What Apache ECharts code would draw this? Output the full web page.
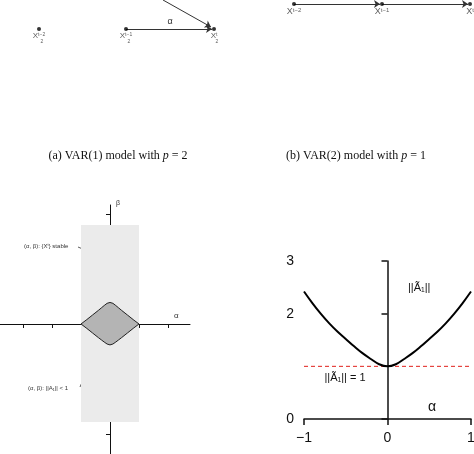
<!DOCTYPE html>
<html><head><meta charset="utf-8">
<script src="https://cdn.jsdelivr.net/npm/echarts@6/dist/echarts.min.js"></script>
<style>html,body{margin:0;padding:0;background:#fff}#c{width:474px;height:454px}</style>
</head><body><div id="c"></div>
<script>
// Diagram node positions (diagram coordinates, pixel-like units)
var nodesA = [[39,29,'X','2','t−2'],[126,29,'X','2','t−1'],[214,29,'X','2','t']];
var nodesB = [[294,4,'X','','t−2'],[382,4,'X','','t−1'],[470,4,'X','','t']];
var arrows = [[[126,29],[212,29]],[[163,0],[211,27]],[[294,4],[380,4]],[[382,4],[468,4]]];
// Stability region (panel c)
var stableAlpha = [-1, 1];
var stableBeta = [-4.45, 4.5];
var normAlpha = [-1,-0.8,-0.6,-0.4,-0.3,-0.2,-0.1,0,0.1,0.2,0.3,0.4,0.6,0.8,1];
var normBetaUpper = [0,0.2,0.41,0.62,0.73,0.84,0.94,0.98,0.94,0.84,0.73,0.62,0.41,0.2,0];
var normBetaLower = [0,-0.2,-0.41,-0.62,-0.72,-0.82,-0.91,-0.95,-0.91,-0.82,-0.72,-0.62,-0.41,-0.2,0];
// Panel d curve
var dAlpha = [-1,-0.9,-0.8,-0.7,-0.6,-0.5,-0.4,-0.3,-0.2,-0.1,0,0.1,0.2,0.3,0.4,0.5,0.6,0.7,0.8,0.9,1];
var dNorm = [2.42,2.2,2.0,1.82,1.66,1.52,1.38,1.25,1.14,1.04,1.0,1.04,1.14,1.25,1.38,1.52,1.66,1.82,2.0,2.2,2.42];
var cTicksX = [-3,-2,-1,1,2], cTicksY = [-5,5];
var dTicksX = [-1,0,1], dTicksY = [0,2,3];

var chart = echarts.init(document.getElementById('c'));
var poly = normAlpha.map(function(a,i){return [a,normBetaUpper[i]];})
  .concat(normAlpha.slice().reverse().map(function(a,i){return [a,normBetaLower[normAlpha.length-1-i]];}));
var sans='Liberation Sans';
var nodeData = function(list,fs){
  return list.map(function(n){return {value:[n[0],n[1]],label:{show:true,position:'bottom',distance:1,
    formatter:'{b|X}{s|'+n[4]+'}'+(n[3]?'\n{sub|'+n[3]+'}':''),
    rich:{b:{fontSize:fs,color:'#333',fontFamily:sans,lineHeight:fs},s:{fontSize:fs-3,color:'#333',fontFamily:sans,verticalAlign:'top',lineHeight:fs},
      sub:{fontSize:5,color:'#333',fontFamily:sans,lineHeight:3,padding:[0,0,0,6]}}}};});
};
chart.setOption({
  animation:false,
  grid:[
    {left:0,top:0,width:474,height:454,outerBoundsMode:'none'},
    {left:0,top:205,width:190,height:249,outerBoundsMode:'none'},
    {left:304,top:261,width:167,height:158,outerBoundsMode:'none'}
  ],
  xAxis:[
    {gridIndex:0,type:'value',min:0,max:474,show:false},
    {gridIndex:1,type:'value',min:-3.793,max:2.759,
      axisLine:{onZero:true,lineStyle:{color:'#111',width:1}},
      axisTick:{show:true,customValues:cTicksX,length:4,lineStyle:{color:'#111'}},
      axisLabel:{customValues:cTicksX,fontSize:6,color:'#333',margin:8,fontFamily:sans,
        formatter:function(v){return v<0?'−'+(-v):''+v;}},splitLine:{show:false}},
    {gridIndex:2,type:'value',min:-1,max:1,
      axisLine:{onZero:true,lineStyle:{color:'#111',width:1.5}},
      axisTick:{show:true,customValues:dTicksX,length:6,lineStyle:{color:'#111',width:1.5}},
      axisLabel:{customValues:dTicksX,fontSize:14,color:'#111',margin:12,fontFamily:sans,
        formatter:function(v){return v<0?'−'+(-v):''+v;}},splitLine:{show:false}}
  ],
  yAxis:[
    {gridIndex:0,type:'value',min:0,max:454,inverse:true,show:false},
    {gridIndex:1,type:'value',min:-5.909,max:5.409,
      axisLine:{onZero:true,lineStyle:{color:'#111',width:1}},
      axisTick:{show:true,customValues:cTicksY,length:4,lineStyle:{color:'#111'}},
      axisLabel:{customValues:cTicksY,fontSize:6,color:'#333',margin:6,fontFamily:sans,
        formatter:function(v){return v<0?'−'+(-v):''+v;}},splitLine:{show:false}},
    {gridIndex:2,type:'value',min:0,max:3,
      axisLine:{onZero:true,lineStyle:{color:'#111',width:1.5}},
      axisTick:{show:true,customValues:dTicksY,length:6,lineStyle:{color:'#111',width:1.5}},
      axisLabel:{customValues:dTicksY,fontSize:14,color:'#111',margin:10,fontFamily:sans},splitLine:{show:false}}
  ],
  series:[
    {type:'lines',coordinateSystem:'cartesian2d',xAxisIndex:0,yAxisIndex:0,symbol:['none','arrow'],symbolSize:6,
      lineStyle:{color:'#333',width:1,opacity:1},data:arrows.map(function(a){return {coords:a};})},
    {type:'scatter',xAxisIndex:0,yAxisIndex:0,symbolSize:4,itemStyle:{color:'#000'},data:nodeData(nodesA,8)},
    {type:'scatter',xAxisIndex:0,yAxisIndex:0,symbolSize:4,itemStyle:{color:'#000'},data:nodeData(nodesB,9)},
    {type:'custom',xAxisIndex:1,yAxisIndex:1,data:[[stableAlpha[0],stableBeta[0],stableAlpha[1],stableBeta[1]]],
      renderItem:function(p,api){var a=api.coord([api.value(0),api.value(3)]),b=api.coord([api.value(2),api.value(1)]);
        return {type:'rect',shape:{x:a[0],y:a[1],width:b[0]-a[0],height:b[1]-a[1]},style:{fill:'#ebebeb'}};},z:1},
    {type:'custom',xAxisIndex:1,yAxisIndex:1,data:[0],z:2,
      renderItem:function(p,api){return {type:'polygon',shape:{points:poly.map(function(q){return api.coord(q);})},
        style:{fill:'#b4b4b4',stroke:'#222',lineWidth:1}};}},
    {type:'line',xAxisIndex:2,yAxisIndex:2,data:[[-1,1],[1,1]],symbol:'none',lineStyle:{color:'#e0201b',width:1,type:[4,3]}},
    {type:'line',xAxisIndex:2,yAxisIndex:2,data:dAlpha.map(function(a,i){return [a,dNorm[i]];}),symbol:'none',smooth:0.4,
      lineStyle:{color:'#000',width:2},z:5}
  ],
  graphic:[
    {type:'text',x:170,y:22,style:{text:'α',fontSize:9,fill:'#333',fontFamily:sans,align:'center',verticalAlign:'middle'}},
    {type:'text',x:118,y:156,style:{text:'(a) VAR(1) model with {i|p} = 2',fill:'#111',fontSize:12,fontFamily:'Liberation Serif',align:'center',verticalAlign:'middle',rich:{i:{fontStyle:'italic',fontSize:12,fontFamily:'Liberation Serif'}}}},
    {type:'text',x:356,y:156,style:{text:'(b) VAR(2) model with {i|p} = 1',fill:'#111',fontSize:12,fontFamily:'Liberation Serif',align:'center',verticalAlign:'middle',rich:{i:{fontStyle:'italic',fontSize:12,fontFamily:'Liberation Serif'}}}},
    {type:'text',x:116,y:203,style:{text:'β',fontSize:7,fill:'#333',fontFamily:sans,verticalAlign:'middle'}},
    {type:'text',x:174,y:316,style:{text:'α',fontSize:8,fill:'#333',fontFamily:sans,verticalAlign:'middle'}},
    {type:'text',x:24,y:246,style:{text:'(α, β): {X{s|t}} stable',fontSize:6,fill:'#333',fontFamily:sans,verticalAlign:'middle',rich:{s:{fontSize:4,verticalAlign:'top'}}}},
    {type:'line',shape:{x1:78,y1:247,x2:104,y2:258},style:{stroke:'#333',lineWidth:0.8}},
    {type:'text',x:28,y:388,style:{text:'(α, β): ||A₁|| < 1',fontSize:6,fill:'#333',fontFamily:sans,verticalAlign:'middle'}},
    {type:'line',shape:{x1:80,y1:387,x2:103,y2:333},style:{stroke:'#333',lineWidth:0.8}},
    {type:'text',x:408,y:288,style:{text:'||Ã₁||',fontSize:11,fill:'#111',fontFamily:sans,verticalAlign:'middle'}},
    {type:'text',x:345,y:378,style:{text:'||Ã₁|| = 1',fontSize:11,fill:'#111',fontFamily:sans,align:'center',verticalAlign:'middle'}},
    {type:'text',x:432,y:407,style:{text:'α',fontSize:14,fill:'#111',fontFamily:sans,align:'center',verticalAlign:'middle'}}
  ]
});
</script></body></html>
